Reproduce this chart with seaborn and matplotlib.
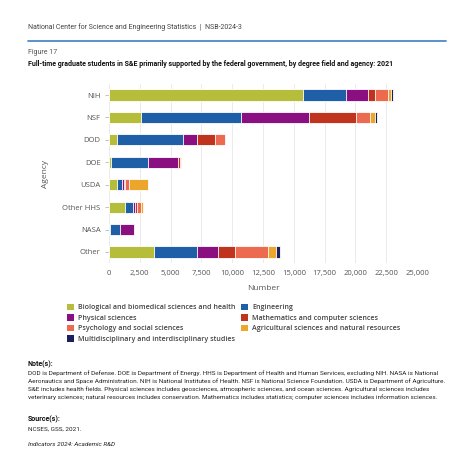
import numpy as np
import pandas as pd
import seaborn as sns
import matplotlib.pyplot as plt
from matplotlib.patches import Patch

sns.set_theme(style="whitegrid")
plt.rcParams['font.family'] = ['Open Sans', 'DejaVu Sans']

# data
agencies = ['NIH', 'NSF', 'DOD', 'DOE', 'USDA', 'Other HHS', 'NASA', 'Other']
bio = [15760, 2620, 680, 190, 680, 1270, 80, 3680]
eng = [3460, 8060, 5350, 3000, 400, 700, 840, 3480]
phys = [1810, 5570, 1080, 2430, 110, 160, 1080, 1700]
math_cs = [600, 3780, 1510, 140, 80, 170, 0, 1380]
psych = [1020, 1140, 810, 60, 380, 300, 0, 2680]
agri = [220, 430, 0, 0, 1490, 180, 0, 650]
multi = [220, 160, 0, 0, 0, 0, 0, 270]

fields = ['Biological and biomedical sciences and health', 'Engineering',
          'Physical sciences', 'Mathematics and computer sciences',
          'Psychology and social sciences', 'Agricultural sciences and natural resources',
          'Multidisciplinary and interdisciplinary studies']
colors = ['#b5bd3b', '#1f5fa8', '#8a0f80', '#c0341d', '#ec6a50', '#eca62b', '#1b1f5c']

df = pd.DataFrame({'agency': agencies, fields[0]: bio, fields[1]: eng, fields[2]: phys,
                   fields[3]: math_cs, fields[4]: psych, fields[5]: agri, fields[6]: multi})
cum = df[fields].cumsum(axis=1)

W, H = 474, 463
fig = plt.figure(figsize=(W / 100, H / 100), dpi=100)

def fy(y):
    return 1 - y / H

ax = fig.add_axes([109 / W, fy(263.2), 308 / W, (263.2 - 83.8) / H])

# stacked bars: draw cumulative totals from the last field back to the first
for f, c in reversed(list(zip(fields, colors))):
    sns.barplot(x=cum[f], y=df['agency'], color=c, width=0.5, orient='h',
                edgecolor='white', linewidth=0.6, ax=ax, saturation=1)

ax.set_xlim(0, 25000)
ax.set_xticks(np.arange(0, 25001, 2500))
ax.set_xticklabels([f'{v:,}' for v in range(0, 25001, 2500)])
ax.set_xlabel('Number', fontsize=6, color='#555555', labelpad=6)
ax.set_ylabel('Agency', fontsize=6, color='#555555', labelpad=10)
ax.tick_params(axis='x', labelsize=5.5, colors='#555555', length=0, pad=5)
ax.tick_params(axis='y', labelsize=5.5, colors='#555555', length=3, width=0.5, pad=3,
               left=True, color='#aaaaaa')
ax.grid(axis='x', color='#e8e8e8', linewidth=0.6)
ax.grid(axis='y', visible=False)
for s in ax.spines.values():
    s.set_visible(False)

# header
fig.text(28 / W, fy(27), 'National Center for Science and Engineering Statistics  |  NSB-2024-3',
         fontsize=5, color='#444444', family='Roboto', va='center')
fig.add_artist(plt.Line2D([28 / W, 446 / W], [fy(41), fy(41)], color='#3d7fc1', linewidth=1.2))
fig.text(28 / W, fy(52), 'Figure 17', fontsize=5, color='#555555', family='Roboto', va='center')
fig.text(28 / W, fy(64), 'Full-time graduate students in S&E primarily supported by the federal government, by degree field and agency: 2021',
         fontsize=5, color='#111111', family='Roboto', weight='bold', va='center')

# legend
handles = [Patch(facecolor=c, edgecolor='none') for c in colors]
order = [0, 2, 4, 6, 1, 3, 5]
fig.legend([handles[i] for i in order], [fields[i] for i in order], ncol=2,
           loc='upper left', bbox_to_anchor=(61 / W, fy(298)), frameon=False,
           handlelength=1.0, handleheight=1.0, handletextpad=0.6,
           columnspacing=0.8, labelspacing=0.42, borderpad=0.3,
           prop={'weight': 'semibold', 'size': 5.1})
for t in fig.legends[0].get_texts():
    t.set_color('#444444')

# notes
fig.text(28 / W, fy(364), 'Note(s):', fontsize=5, weight='bold', family='Roboto', color='#111111', va='center')
notes = ('DOD is Department of Defense. DOE is Department of Energy. HHS is Department of Health and Human Services, excluding NIH. NASA is National\n'
         'Aeronautics and Space Administration. NIH is National Institutes of Health. NSF is National Science Foundation. USDA is Department of Agriculture.\n'
         'S&E includes health fields. Physical sciences includes geosciences, atmospheric sciences, and ocean sciences. Agricultural sciences includes\n'
         'veterinary sciences; natural resources includes conservation. Mathematics includes statistics; computer sciences includes information sciences.')
fig.text(28 / W, fy(370), notes, fontsize=4.6, family='Roboto', color='#222222', va='top', linespacing=1.5)
fig.text(28 / W, fy(419), 'Source(s):', fontsize=5, weight='bold', family='Roboto', color='#111111', va='center')
fig.text(28 / W, fy(429), 'NCSES, GSS, 2021.', fontsize=4.6, family='Roboto', color='#222222', va='center')
fig.text(28 / W, fy(444), 'Indicators 2024: Academic R&D', fontsize=4.6, family='Roboto', style='italic',
         color='#222222', va='center')

fig.savefig('out.png', dpi=100)
